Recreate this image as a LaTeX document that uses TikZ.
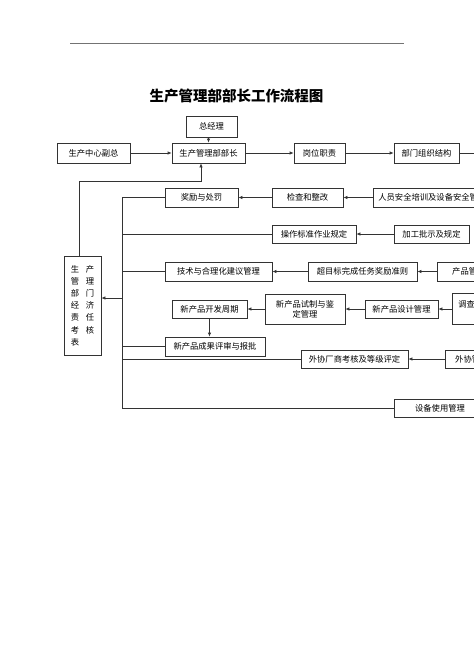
\documentclass[tikz,border=0pt]{standalone}
\usepackage{fontspec}
\newfontfamily\cjk{Noto Sans CJK SC}
\usetikzlibrary{arrows.meta}
\begin{document}
\begin{tikzpicture}[x=1pt,y=-1pt,
  box/.style={draw=black!80, line width=0.6pt, fill=white, inner sep=0pt,
    font=\cjk\fontsize{8.3}{10}\selectfont, align=center},
  con/.style={draw=black!80, line width=0.6pt},
  arr/.style={con, -{Latex[length=4pt,width=3.2pt]}}]
\useasboundingbox (0,0) rectangle (474,670);
\clip (0,0) rectangle (474,670);
\fill[white] (0,0) rectangle (474,670);
\draw[black!55, line width=0.9pt] (70,43) -- (404,43);
\node[font=\cjk\bfseries\fontsize{14.5}{16}\selectfont] (title) at (236.5,96) {生产管理部部长工作流程图};

% row 1
\node[box, minimum width=51, minimum height=21] (zjl) at (211.5,126.5) {总经理};
\node[box, minimum width=73, minimum height=20] (fz) at (93.5,153) {生产中心副总};
\node[box, minimum width=73, minimum height=20] (bz) at (208.5,153) {生产管理部部长};
\node[box, minimum width=51, minimum height=20] (gw) at (319.5,153) {岗位职责};
\node[box, minimum width=65, minimum height=20] (bm) at (426.5,153) {部门组织结构};
\coordinate (bmr) at (480,153);

% row 2
\node[box, minimum width=73, minimum height=19] (jl) at (201.5,197.5) {奖励与处罚};
\node[box, minimum width=71, minimum height=19] (jc) at (307.5,197.5) {检查和整改};
\node[box, minimum width=118, minimum height=19, anchor=west] (ry) at (373,197.5) {人员安全培训及设备安全管理};

% row 3
\node[box, minimum width=84, minimum height=18] (cz) at (314,234) {操作标准作业规定};
\node[box, minimum width=75, minimum height=18] (jg) at (431.5,234) {加工批示及规定};

% row 4
\node[box, minimum width=107, minimum height=19] (js) at (218.5,271.5) {技术与合理化建议管理};
\node[box, minimum width=109, minimum height=19] (cm) at (362.5,271.5) {超目标完成任务奖励准则};
\node[box, minimum width=63, minimum height=19, anchor=west] (cp) at (437,271.5) {产品管理};

% row 5
\node[box, minimum width=75, minimum height=18] (kf) at (209.5,309) {新产品开发周期};
\node[box, minimum width=80, minimum height=30] (sz) at (305,309) {新产品试制与鉴\\定管理};
\node[box, minimum width=73, minimum height=18] (sj) at (401.5,309) {新产品设计管理};
\node[box, minimum width=90, minimum height=31, anchor=west, align=left, text width=78pt, inner xsep=6pt] (dc) at (452,309) {调查研究与开发\\\hspace{30pt}计划};

% row 6
\node[box, minimum width=100, minimum height=19] (cg) at (215,346.5) {新产品成果评审与报批};
\node[box, minimum width=107, minimum height=18] (wx) at (354.5,359) {外协厂商考核及等级评定};
\node[box, minimum width=53, minimum height=18, anchor=west] (wg) at (445,359) {外协管理};

% row 7
\node[box, minimum width=92, minimum height=18] (sb) at (440,408) {设备使用管理};

% left box
\node[box, minimum width=37, minimum height=99, align=left,
  font=\cjk\fontsize{8.3}{12.2}\selectfont] (kh) at (82.5,305.5)
  {生\hspace{6.7pt}产\\管\hspace{6.7pt}理\\部\hspace{6.7pt}门\\经\hspace{6.7pt}济\\责\hspace{6.7pt}任\\考\hspace{6.7pt}核\\表};

% connectors row 1
\draw[arr] (bz.north |- zjl.south) -- (bz.north);
\draw[arr] (fz.east) -- (bz.west);
\draw[arr] (bz.east) -- (gw.west);
\draw[arr] (gw.east) -- (bm.west);
\draw[con] (bm.east) -- (bmr);

% feedback from left box to bz
\coordinate (k1) at (79,181);
\coordinate (k2) at (201,181);
\draw[arr] (kh.north -| k1) -- (k1) -- (k2) -- (k2 |- bz.south);

% bus
\coordinate (bustop) at (122,197.5);
\coordinate (busbot) at (122,408);
\coordinate (khin) at (122,298);
\draw[con] (jl.west) -- (bustop) -- (busbot) -- (sb.west);
\draw[con] (cz.west) -- (cz.west -| bustop);
\draw[con] (js.west) -- (js.west -| bustop);
\draw[con] (cg.west) -- (cg.west -| bustop);
\draw[con] (wx.west) -- (wx.west -| bustop);
\draw[arr] (khin) -- (khin -| kh.east);

% row arrows
\draw[arr] (ry.west) -- (jc.east);
\draw[arr] (jc.west) -- (jl.east);
\draw[arr] (jg.west) -- (cz.east);
\draw[arr] (cp.west) -- (cm.east);
\draw[arr] (cm.west) -- (js.east);
\draw[arr] (dc.west) -- (sj.east);
\draw[arr] (sj.west) -- (sz.east);
\draw[arr] (sz.west) -- (kf.east);
\draw[arr] (kf.south) -- (kf.south |- cg.north);
\draw[arr] (wg.west) -- (wx.east);
\end{tikzpicture}
\end{document}
